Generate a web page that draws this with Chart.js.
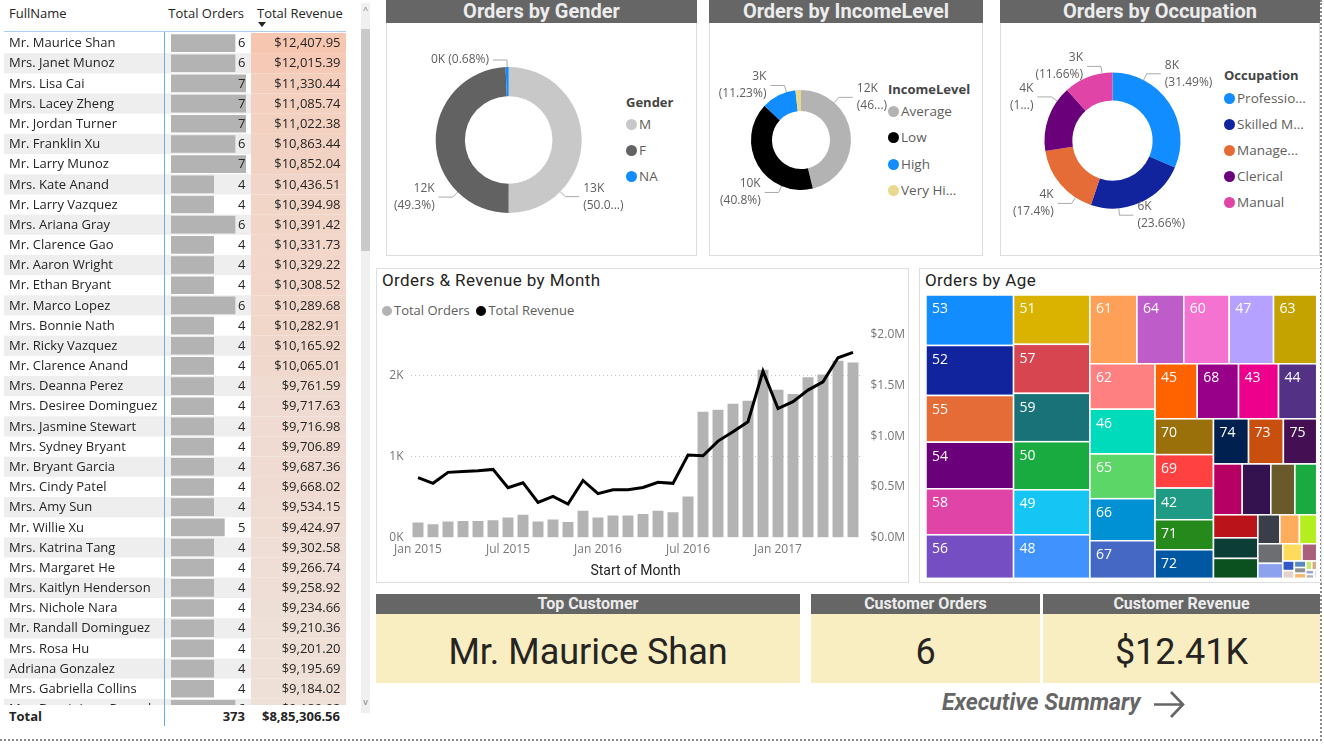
<!DOCTYPE html>
<html>
<head>
<meta charset="utf-8">
<script src="https://cdn.jsdelivr.net/npm/chart.js@4.4.1/dist/chart.umd.min.js"></script>
<style>
  html, body { margin:0; padding:0; background:#fff; }
  body { width:1324px; height:744px; position:relative; overflow:hidden; font-family:"Segoe UI","Open Sans",sans-serif; color:#252423; }
  .a { position:absolute; white-space:nowrap; }
  .panel { position:absolute; box-sizing:border-box; border:1px solid #dedede; }
  .hdr { position:absolute; background:#666666; color:#ececec; text-align:center; font-family:"DIN","Roboto",sans-serif; font-weight:700; white-space:nowrap; overflow:hidden; }
  .ttl { position:absolute; font-family:"DIN","Roboto",sans-serif; font-size:17px; letter-spacing:0.4px; color:#252423; white-space:nowrap; line-height:20px; }
  .lg { position:absolute; white-space:nowrap; font-size:13px; color:#605E5C; line-height:16px; }
  .dot { display:inline-block; width:10px; height:10px; border-radius:50%; vertical-align:-1px; margin-right:2px; }
  .card { position:absolute; background:#F9EEC1; text-align:center; font-family:"DIN","Liberation Sans Narrow","Roboto",sans-serif; color:#252423; white-space:nowrap; }
  .chdr { position:absolute; background:#666666; color:#ececec; text-align:center; font-family:"DIN","Liberation Sans Narrow","Roboto",sans-serif; font-weight:700; font-size:16px; line-height:20px; white-space:nowrap; }
  canvas { position:absolute; }
</style>
</head>
<body>
<script>
// ================= DATA =================
const customerNames = ['Mr. Maurice Shan','Mrs. Janet Munoz','Mrs. Lisa Cai','Mrs. Lacey Zheng','Mr. Jordan Turner','Mr. Franklin Xu','Mr. Larry Munoz','Mrs. Kate Anand','Mr. Larry Vazquez','Mrs. Ariana Gray','Mr. Clarence Gao','Mr. Aaron Wright','Mr. Ethan Bryant','Mr. Marco Lopez','Mrs. Bonnie Nath','Mr. Ricky Vazquez','Mr. Clarence Anand','Mrs. Deanna Perez','Mrs. Desiree Dominguez','Mrs. Jasmine Stewart','Mrs. Sydney Bryant','Mr. Bryant Garcia','Mrs. Cindy Patel','Mrs. Amy Sun','Mr. Willie Xu','Mrs. Katrina Tang','Mrs. Margaret He','Mrs. Kaitlyn Henderson','Mrs. Nichole Nara','Mr. Randall Dominguez','Mrs. Rosa Hu','Adriana Gonzalez','Mrs. Gabriella Collins','Mrs. Dominique Prasad'];
const customerOrders = [6,6,7,7,7,6,7,4,4,6,4,4,4,6,4,4,4,4,4,4,4,4,4,4,5,4,4,4,4,4,4,4,4,6];
const customerRevenue = [12407.95,12015.39,11330.44,11085.74,11022.38,10863.44,10852.04,10436.51,10394.98,10391.42,10331.73,10329.22,10308.52,10289.68,10282.91,10165.92,10065.01,9761.59,9717.63,9716.98,9706.89,9687.36,9668.02,9534.15,9424.97,9302.58,9266.74,9258.92,9234.66,9210.36,9201.20,9195.69,9184.02,9180.92];
const tableColumns = ['FullName','Total Orders','Total Revenue'];
const tableTotals = ['Total','373','$8,85,306.56'];

const genderLabels = ['M','F','NA'];
const genderOrders = [12505, 12325, 170];
const incomeLabels = ['Average','Low','High','Very High'];
const incomeOrders = [11548, 10200, 2808, 444];
const occupationLabels = ['Professional','Skilled Manual','Management','Clerical','Manual'];
const occupationOrders = [7873, 5915, 4350, 3947, 2915];

const monthLabels = ['Jan 2015','Feb 2015','Mar 2015','Apr 2015','May 2015','Jun 2015','Jul 2015','Aug 2015','Sep 2015','Oct 2015','Nov 2015','Dec 2015',
  'Jan 2016','Feb 2016','Mar 2016','Apr 2016','May 2016','Jun 2016','Jul 2016','Aug 2016','Sep 2016','Oct 2016','Nov 2016','Dec 2016',
  'Jan 2017','Feb 2017','Mar 2017','Apr 2017','May 2017','Jun 2017'];
const monthOrders = [186,166,199,207,207,215,248,282,199,224,195,331,248,273,273,292,331,315,509,1553,1578,1652,1690,2070,1826,1772,1979,2012,2182,2161];
const monthRevenue = [591900,536400,644600,654100,660700,673800,493400,542600,348200,408100,332400,565200,434400,473300,473300,495000,546100,536400,815300,808700,953300,1045300,1143600,1643800,1274600,1341500,1456200,1538400,1774800,1827800];

const ageLabels = ['53','52','55','54','58','56','51','57','59','50','49','48','61','64','60','47','63','62','46','65','66','67','45','68','43','44','70','69','42','71','72','74','73','75','76','41','77','78','40','79','80','39','81','82','38','83','84','85','86','37','87','88','36','89','90','35','91','92'];
const ageOrders = [998,988,923,921,909,859,850,845,833,830,775,749,730,728,704,688,670,668,658,657,618,552,524,513,497,474,472,441,417,396,376,357,355,339,330,328,276,250,231,206,199,144,128,113,110,84,75,57,25,20,17,15,13,12,10,8,7,5];

const cardTitles = ['Top Customer','Customer Orders','Customer Revenue'];
const cardValues = ['Mr. Maurice Shan','6','$12.41K'];

// ================= STYLE =================
const genderColors = ['#C8C8C8','#626262','#118DFF'];
const incomeColors = ['#B3B3B3','#000000','#118DFF','#E9D98E'];
const occupationColors = ['#118DFF','#12239E','#E66C37','#6B007B','#E044A7'];
const ageColors = ['#118DFF','#12239E','#E66C37','#6B007B','#E044A7','#744EC2','#D9B300','#D64550','#197278','#1AAB40','#15C6F4','#4092FF','#FFA058','#BE5DC9','#F472D0','#B5A1FF','#C4A200','#FF8080','#00DBBC','#5BD667','#0091D5','#4668C5','#FF6300','#99008A','#EC008C','#533285','#99700A','#FF4141','#1F9A85','#25891C','#0057A2','#002050','#C94F0F','#450F54','#B60064','#34124F','#6A5A29','#1AAB40','#BA141A','#0C3D37','#0B511F','#3A3E48','#FFAD5C','#B4EE1E','#6C6E72','#8DA2EE','#FFDB5C','#A8607C','#3257C8','#E2D4CC','#5A88C0','#8F8F8F','#F8B86C','#C8E870','#D8A888','#9AA8D0','#B0B0B0','#DDDDDD'];
const SEG = '"Segoe UI","Open Sans",sans-serif';

function el(html) { document.body.insertAdjacentHTML('beforeend', html); }
const measureCtx = document.createElement('canvas').getContext('2d');
function textW(s, font) { measureCtx.font = font; return measureCtx.measureText(s).width; }
function trunc(s, font, maxW) {
  if (textW(s, font) <= maxW) return s;
  let t = s;
  while (t.length > 1 && textW(t + '...', font) > maxW) t = t.slice(0, -1);
  return t + '...';
}
function fmtK(v) { return Math.round(v / 1000) + 'K'; }
function fmtPct(f) { return (Math.round(f * 10000) / 100).toString() + '%'; }
function fmtMoney(v) { return '$' + v.toLocaleString('en-US', {minimumFractionDigits:2, maximumFractionDigits:2}); }

// ================= STATIC LAYOUT =================
el('<div class="a" style="left:0;top:0;width:1320px;height:739px;border-right:2px dotted #8a8a8a;border-bottom:2px dotted #8a8a8a;"></div>');

// Table header
el(`<div class="a" style="left:9px;top:4px;font-size:13px;line-height:18px;">${tableColumns[0]}</div>`);
el(`<div class="a" style="left:140px;width:104px;text-align:right;top:4px;font-size:13px;line-height:18px;">${tableColumns[1]}</div>`);
el(`<div class="a" style="left:257px;top:4px;font-size:13px;line-height:18px;">${tableColumns[2]}</div>`);
el('<div class="a" style="left:258px;top:22px;width:0;height:0;border-left:4px solid transparent;border-right:4px solid transparent;border-top:5px solid #252423;"></div>');
el('<div class="a" style="left:4px;top:31px;width:342px;height:1px;background:#a9cdef;"></div>');
// scrollbar
el('<div class="a" style="left:361px;top:3px;width:9px;height:710px;background:#f0f0f0;"></div>');
el('<div class="a" style="left:361px;top:29px;width:9px;height:222px;background:#c9c9c9;"></div>');
el('<div class="a" style="left:361px;top:3px;width:9px;text-align:center;font-size:9px;color:#777;line-height:14px;">&#94;</div>');
el('<div class="a" style="left:361px;top:695px;width:9px;text-align:center;font-size:9px;color:#777;line-height:14px;">v</div>');

// Donut panels
const donutPanels = [
  {left:386, w:311, title:'Orders by Gender'},
  {left:709, w:274, title:'Orders by IncomeLevel'},
  {left:1000, w:320, title:'Orders by Occupation'}
];
donutPanels.forEach(p => {
  el(`<div class="panel" style="left:${p.left}px;top:0;width:${p.w}px;height:256px;"></div>`);
  el(`<div class="hdr" style="left:${p.left}px;top:0;width:${p.w}px;height:23px;line-height:23px;font-size:20px;">${p.title}</div>`);
});

// Line chart panel + treemap panel
el('<div class="panel" style="left:376px;top:268px;width:533px;height:315px;"></div>');
el('<div class="ttl" style="left:382px;top:270px;">Orders &amp; Revenue by Month</div>');
el(`<div class="lg" style="left:382px;top:302px;"><span class="dot" style="background:#B3B3B3"></span>Total Orders&nbsp; <span class="dot" style="background:#000"></span>Total Revenue</div>`);
el('<div class="panel" style="left:919px;top:268px;width:403px;height:315px;"></div>');
el('<div class="ttl" style="left:925px;top:270px;">Orders by Age</div>');

// Cards
const cards = [{left:376, w:424}, {left:811, w:229}, {left:1043, w:277}];
cards.forEach((c, i) => {
  el(`<div class="chdr" style="left:${c.left}px;top:594px;width:${c.w}px;height:20px;">${cardTitles[i]}</div>`);
  el(`<div class="card" style="left:${c.left}px;top:614px;width:${c.w}px;height:69px;font-size:36px;line-height:76px;">${cardValues[i]}</div>`);
});
el('<div class="a" style="left:942px;top:689px;font-family:\'DIN\',\'Roboto\',sans-serif;font-weight:700;font-style:italic;font-size:23px;line-height:28px;color:#666;">Executive Summary</div>');
el('<svg class="a" style="left:1150px;top:688px;" width="40" height="34"><path d="M4 16.5 H33 M21 4 L33 16.5 L21 29" fill="none" stroke="#666" stroke-width="2.6"/></svg>');

// Legends for donuts
function legend(left, titleY, firstY, step, title, labels, colors, maxRight) {
  el(`<div class="a" style="left:${left}px;top:${titleY - 9}px;font-size:13px;line-height:18px;font-weight:700;color:#444;">${title}</div>`);
  const font = '13.5px ' + SEG;
  labels.forEach((l, i) => {
    const y = firstY + i * step;
    const txt = trunc(l, font, maxRight - (left + 13));
    el(`<div class="a" style="left:${left}px;top:${y - 9}px;font-size:13.5px;line-height:18px;color:#605E5C;"><span class="dot" style="background:${colors[i]};width:11px;height:11px;vertical-align:-1px;margin-right:2px;"></span>${txt}</div>`);
  });
}
legend(626, 102, 124, 26, 'Gender', genderLabels, genderColors, 690);
legend(888, 89, 111, 26.3, 'IncomeLevel', incomeLabels, incomeColors, 958);
legend(1224, 75, 98, 26, 'Occupation', occupationLabels, occupationColors, 1307);

// canvases
el('<canvas id="tbl" width="350" height="686" style="left:0;top:33px;"></canvas>');
el(`<div class="a" style="left:0;top:705px;width:350px;height:22px;background:#fff;font-weight:700;font-size:13px;line-height:22px;">
  <span class="a" style="left:9px;top:0;">${tableTotals[0]}</span>
  <span class="a" style="left:150px;width:95px;text-align:right;top:0;">${tableTotals[1]}</span>
  <span class="a" style="left:230px;width:110px;text-align:right;top:0;">${tableTotals[2]}</span></div>`);
el('<div class="a" style="left:164px;top:32px;width:1px;height:694px;background:#6aaee8;"></div>');
el('<canvas id="cg" width="311" height="232" style="left:386px;top:23px;"></canvas>');
el('<canvas id="ci" width="274" height="232" style="left:709px;top:23px;"></canvas>');
el('<canvas id="co" width="320" height="232" style="left:1000px;top:23px;"></canvas>');
el('<canvas id="cm" width="532" height="314" style="left:376px;top:268px;"></canvas>');
el('<canvas id="ct" width="402" height="314" style="left:919px;top:268px;"></canvas>');

// ================= TABLE (horizontal bar chart) =================
const revMin = Math.min(...customerRevenue), revMax = Math.max(...customerRevenue);
function revColor(v) {
  const t = (v - revMin) / (revMax - revMin);
  const c0 = [238,223,215], c1 = [246,198,176];
  return `rgb(${c0.map((c, k) => Math.round(c + (c1[k] - c) * t)).join(',')})`;
}
const tablePlugin = {
  id: 'tableCells',
  beforeDatasetsDraw(chart) {
    const {ctx, scales:{y}} = chart;
    const band = y.getPixelForValue(1) - y.getPixelForValue(0);
    ctx.save();
    customerNames.forEach((n, i) => {
      const yc = y.getPixelForValue(i);
      if (i % 2 === 1) { ctx.fillStyle = '#EEEEEE'; ctx.fillRect(4, yc - band / 2, 247, band); }
      ctx.fillStyle = revColor(customerRevenue[i]);
      ctx.fillRect(251, yc - band / 2, 95, band);
    });
    ctx.restore();
  },
  afterDatasetsDraw(chart) {
    const {ctx, scales:{y}} = chart;
    ctx.save();
    ctx.font = '13px ' + SEG;
    ctx.fillStyle = '#252423';
    ctx.textBaseline = 'middle';
    customerNames.forEach((n, i) => {
      const yc = y.getPixelForValue(i) + 0.5;
      ctx.textAlign = 'left'; ctx.fillText(n, 9, yc);
      ctx.textAlign = 'right'; ctx.fillText(String(customerOrders[i]), 245.5, yc);
      ctx.fillText(fmtMoney(customerRevenue[i]), 340.5, yc);
    });
    ctx.restore();
  }
};
new Chart(document.getElementById('tbl'), {
  type: 'bar',
  data: { labels: customerNames, datasets: [{ data: customerOrders, backgroundColor: '#B3B3B3', barThickness: 17 }] },
  options: {
    indexAxis: 'y', responsive: false, animation: false,
    layout: { padding: { left: 171, right: 100, top: 0, bottom: 0 } },
    scales: { x: { display: false, min: 0, max: 7.404 }, y: { display: false } },
    plugins: { legend: { display: false }, tooltip: { enabled: false } }
  },
  plugins: [tablePlugin]
});

// ================= DONUTS =================
const donutLabelsPlugin = {
  id: 'donutLabels',
  afterDatasetsDraw(chart, args, opts) {
    const meta = chart.getDatasetMeta(0);
    const data = chart.data.datasets[0].data;
    const total = data.reduce((a, b) => a + b, 0);
    const ctx = chart.ctx;
    const font = '12px ' + SEG;
    ctx.save();
    ctx.font = font; ctx.textBaseline = 'middle';
    meta.data.forEach((arc, i) => {
      const frac = opts.fracs[i];
      if (frac == null) return;
      const p = arc.getProps(['x','y','startAngle','endAngle','outerRadius'], true);
      const a = p.startAngle + (p.endAngle - p.startAngle) * frac;
      const ax = p.x + Math.cos(a) * p.outerRadius, ay = p.y + Math.sin(a) * p.outerRadius;
      const bx = p.x + Math.cos(a) * (p.outerRadius + 7), by = p.y + Math.sin(a) * (p.outerRadius + 7);
      const side = Math.cos(a) >= 0 ? 1 : -1;
      const cx = bx + side * 14;
      ctx.strokeStyle = '#AAAAAA'; ctx.lineWidth = 1;
      ctx.beginPath(); ctx.moveTo(ax, ay); ctx.lineTo(bx, by); ctx.lineTo(cx, by); ctx.stroke();
      const tx = cx + side * 4;
      const avail = side > 0 ? opts.rightLimit - tx : tx - opts.leftLimit;
      const pct = fmtPct(data[i] / total);
      let pl = '(' + pct + ')';
      if (textW(pl, font) > avail) {
        let t = pct;
        while (t.length > 1 && textW('(' + t + '...)', font) > avail) t = t.slice(0, -1);
        pl = '(' + t + '...)';
      }
      ctx.fillStyle = '#605E5C';
      ctx.textAlign = side > 0 ? 'left' : 'right';
      if (opts.oneLine && opts.oneLine[i]) {
        ctx.fillText(fmtK(data[i]) + ' ' + pl, tx, by);
      } else {
        ctx.fillText(fmtK(data[i]), tx, by - 8.5);
        ctx.fillText(pl, tx, by + 8.5);
      }
    });
    ctx.restore();
  }
};
function donut(id, labels, values, colors, cutout, pad, lopts) {
  new Chart(document.getElementById(id), {
    type: 'doughnut',
    data: { labels, datasets: [{ data: values, backgroundColor: colors, borderWidth: 0 }] },
    options: {
      responsive: false, animation: false, cutout,
      layout: { padding: pad },
      plugins: { legend: { display: false }, tooltip: { enabled: false }, donutLabels: lopts }
    },
    plugins: [donutLabelsPlugin]
  });
}
donut('cg', genderLabels, genderOrders, genderColors, '60%', {left:49.7, top:44, right:115.3, bottom:42},
  { fracs:[0.75, 0.25, 0.5], oneLine:[false, false, true], rightLimit:240, leftLimit:5 });
donut('ci', incomeLabels, incomeOrders, incomeColors, '58%', {left:42, top:67, right:132, bottom:65},
  { fracs:[0.25, 0.25, 0.74, null], rightLimit:180, leftLimit:8 });
donut('co', occupationLabels, occupationOrders, occupationColors, '59%', {left:44.5, top:49.5, right:139.5, bottom:46.5},
  { fracs:[0.24, 0.72, 0.23, 0.78, 0.79], rightLimit:222, leftLimit:8 });

// ================= MONTHLY COMBO =================
new Chart(document.getElementById('cm'), {
  data: {
    labels: monthLabels,
    datasets: [
      { type: 'line', label: 'Total Revenue', data: monthRevenue, yAxisID: 'yR', borderColor: '#000', borderWidth: 3, pointRadius: 0, tension: 0, order: 0 },
      { type: 'bar', label: 'Total Orders', data: monthOrders, yAxisID: 'yL', backgroundColor: '#B3B3B3', categoryPercentage: 1, barPercentage: 0.73, order: 1 }
    ]
  },
  options: {
    responsive: false, animation: false,
    layout: { padding: { top: 67, left: 0, right: 0, bottom: 0 } },
    plugins: { legend: { display: false }, tooltip: { enabled: false } },
    scales: {
      x: {
        grid: { display: false, drawTicks: false }, border: { display: false },
        ticks: { autoSkip: false, maxRotation: 0, padding: 5, color: '#777', font: { size: 12, family: SEG },
          callback: (v, i) => i % 6 === 0 ? monthLabels[i] : '' },
        title: { display: true, text: 'Start of Month', color: '#252423', font: { size: 14, family: '"DIN","Roboto",sans-serif' }, padding: { top: 2, bottom: 2 } },
        afterFit: s => { s.height = 44.3; }
      },
      yL: {
        position: 'left', min: 0, max: 2500,
        ticks: { stepSize: 500, autoSkip: false, padding: 7, color: '#777', font: { size: 12, family: SEG },
          callback: v => (v % 1000 === 0) ? (v / 1000) + 'K' : '' },
        grid: { drawTicks: false, lineWidth: 1,
          color: c => (c.tick && c.tick.value > 0 && c.tick.value % 1000 === 0) ? '#C4C4C4' : 'rgba(0,0,0,0)' },
        border: { display: false, dash: [1, 3] },
        afterFit: s => { s.width = 34.5; }
      },
      yR: {
        position: 'right', min: 0, max: 2000000,
        ticks: { stepSize: 500000, autoSkip: false, padding: 10, color: '#777', font: { size: 12, family: SEG }, callback: v => '$' + (v / 1e6).toFixed(1) + 'M' },
        grid: { display: false, drawTicks: false }, border: { display: false },
        afterFit: s => { s.width = 47.5; }
      }
    }
  }
});

// ================= TREEMAP =================
function squarify(values, x0, y0, x1, y1, ratio) {
  const rects = [];
  let value = values.reduce((a, b) => a + b, 0);
  let i0 = 0, i1 = 0;
  const n = values.length;
  while (i0 < n) {
    const dx = x1 - x0, dy = y1 - y0;
    let sumValue = values[i1++];
    let minValue = sumValue, maxValue = sumValue;
    const alpha = Math.max(dy / dx, dx / dy) / (value * ratio);
    let beta = sumValue * sumValue * alpha;
    let minRatio = Math.max(maxValue / beta, beta / minValue);
    for (; i1 < n; ++i1) {
      const nv = values[i1];
      sumValue += nv;
      if (nv < minValue) minValue = nv;
      if (nv > maxValue) maxValue = nv;
      beta = sumValue * sumValue * alpha;
      const newRatio = Math.max(maxValue / beta, beta / minValue);
      if (newRatio > minRatio) { sumValue -= nv; break; }
      minRatio = newRatio;
    }
    if (dx < dy) {
      const h = dy * sumValue / value;
      let x = x0;
      for (let i = i0; i < i1; i++) { const w = dx * values[i] / sumValue; rects.push({ i, x0: x, y0: y0, x1: x + w, y1: y0 + h }); x += w; }
      y0 += h;
    } else {
      const w = dx * sumValue / value;
      let y = y0;
      for (let i = i0; i < i1; i++) { const h = dy * values[i] / sumValue; rects.push({ i, x0: x0, y0: y, x1: x0 + w, y1: y + h }); y += h; }
      x0 += w;
    }
    value -= sumValue; i0 = i1;
  }
  return rects;
}
const treemapPlugin = {
  id: 'treemapCells',
  afterDatasetsDraw(chart) {
    const { ctx, chartArea: ca, scales: { x, y } } = chart;
    const cw = ca.right - ca.left, ch = ca.bottom - ca.top;
    const rects = squarify(ageOrders, 0, 0, cw, ch, (1 + Math.sqrt(5)) / 2);
    ctx.save();
    rects.forEach(r => {
      const px0 = x.getPixelForValue(r.x0 / cw), px1 = x.getPixelForValue(r.x1 / cw);
      const py0 = y.getPixelForValue(r.y0 / ch), py1 = y.getPixelForValue(r.y1 / ch);
      ctx.fillStyle = ageColors[r.i % ageColors.length];
      ctx.fillRect(px0, py0, px1 - px0, py1 - py0);
      ctx.strokeStyle = '#fff'; ctx.lineWidth = 1.5;
      ctx.strokeRect(px0, py0, px1 - px0, py1 - py0);
      if (px1 - px0 >= 32 && py1 - py0 >= 25) {
        ctx.fillStyle = '#fff'; ctx.font = '14px ' + SEG; ctx.textBaseline = 'middle'; ctx.textAlign = 'left';
        ctx.fillText(ageLabels[r.i], px0 + 6, py0 + 14.5);
      }
    });
    ctx.restore();
  }
};
new Chart(document.getElementById('ct'), {
  type: 'scatter',
  data: { datasets: [{ data: [] }] },
  options: {
    responsive: false, animation: false,
    layout: { padding: { left: 7, top: 27, right: 4.3, bottom: 3.7 } },
    scales: { x: { display: false, min: 0, max: 1 }, y: { display: false, min: 0, max: 1, reverse: true } },
    plugins: { legend: { display: false }, tooltip: { enabled: false } }
  },
  plugins: [treemapPlugin]
});
</script>
</body>
</html>
